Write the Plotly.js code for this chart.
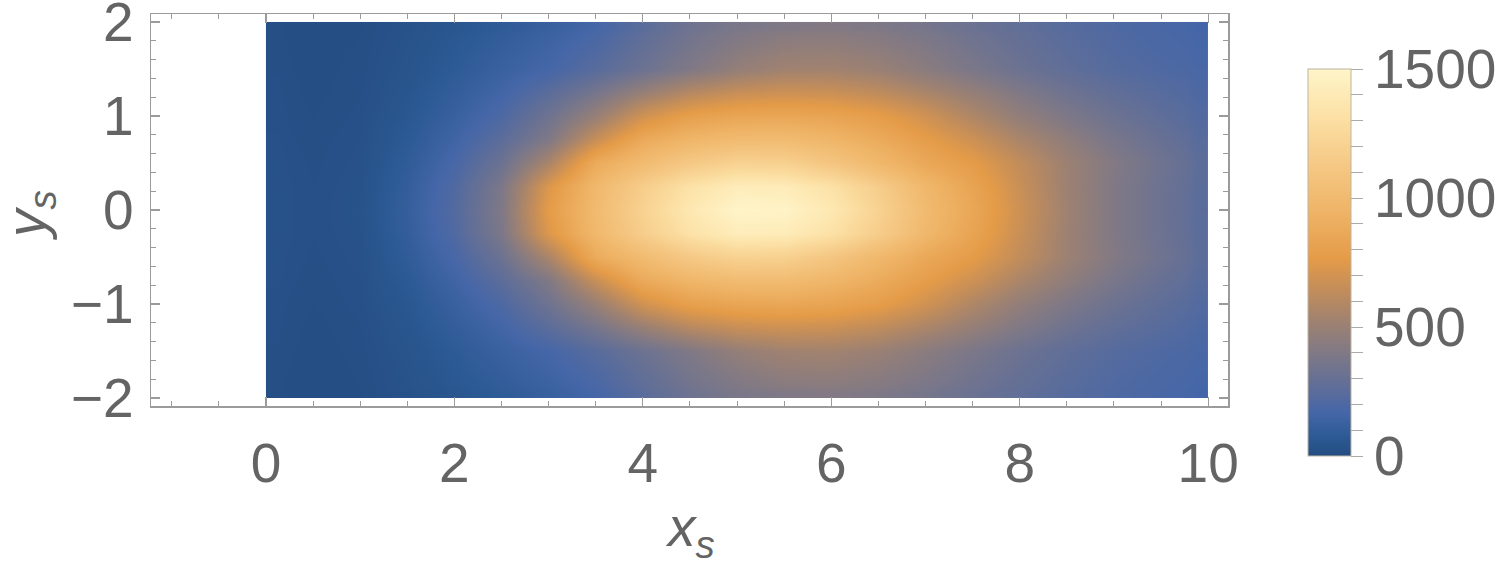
<!DOCTYPE html>
<html>
<head>
<meta charset="utf-8">
<script src="https://cdn.plot.ly/plotly-3.0.1.min.js"></script>
<style>html,body{margin:0;padding:0;background:#fff;}#chart{width:1500px;height:569px;}</style>
</head>
<body>
<div id="chart"></div>
<script>
// x sample positions (x_s) and y sample positions (y_s, upper half; mirrored below)
const xs = [0,0.5,1,1.5,2,2.5,3,3.5,4,4.5,5,5.5,6,6.5,7,7.5,8,8.5,9,9.5,10];
const ysHalf = [0,0.25,0.5,0.75,1,1.25,1.5,1.75,2];

// values, one row per y_s in ysHalf
const row_y000 = [30,20,32,110,220,400,770,1000,1200,1380,1490,1480,1380,1200,1000,850,680,520,400,320,250];
const row_y025 = [30,19,30,104,210,385,735,980,1165,1325,1420,1410,1320,1160,975,830,665,512,400,320,252];
const row_y050 = [28,17,27,90,182,320,560,880,1010,1130,1200,1190,1100,980,860,770,640,510,410,330,260];
const row_y075 = [25,15,24,74,150,255,400,660,870,960,1010,1010,960,880,780,680,560,460,370,300,240];
const row_y100 = [22,13,21,60,122,200,330,490,690,800,840,850,830,780,690,575,470,390,320,265,220];
const row_y125 = [20,11,18,50,100,160,250,360,490,600,660,680,670,630,560,480,400,330,275,235,200];
const row_y150 = [18,10,16,40,80,125,170,240,320,400,480,525,530,500,440,380,320,270,230,205,185];
const row_y175 = [16,9,14,35,67,105,145,200,280,360,420,460,465,440,400,345,295,250,215,192,174];
const row_y200 = [14,8,13,30,55,85,120,170,250,330,380,400,410,395,360,315,275,235,205,183,165];

const cbTickVals = [0,100,200,300,400,500,600,700,800,900,1000,1100,1200,1300,1400,1500];
const cbLabelVals = [0,500,1000,1500];
const yTickVals = [-2,-1,0,1,2];
const xTickVals = [0,2,4,6,8,10];

// build full grid (y from -2 to 2)
const halfRows = [row_y000,row_y025,row_y050,row_y075,row_y100,row_y125,row_y150,row_y175,row_y200];
const ys = [];
const z = [];
for (let i = ysHalf.length - 1; i >= 1; i--) { ys.push(-ysHalf[i]); z.push(halfRows[i]); }
for (let i = 0; i < ysHalf.length; i++) { ys.push(ysHalf[i]); z.push(halfRows[i]); }

function edgesOf(c) {
  const e = [c[0]];
  for (let i = 1; i < c.length; i++) e.push((c[i-1] + c[i]) / 2);
  e.push(c[c.length-1]);
  return e;
}

const colorscale = [
  [0.00, 'rgb(36,76,130)'],
  [0.05, 'rgb(44,90,148)'],
  [0.11, 'rgb(68,102,168)'],
  [0.18, 'rgb(96,110,152)'],
  [0.26, 'rgb(125,120,135)'],
  [0.35, 'rgb(160,130,112)'],
  [0.43, 'rgb(195,141,90)'],
  [0.51, 'rgb(228,155,72)'],
  [0.62, 'rgb(238,178,100)'],
  [0.75, 'rgb(245,200,132)'],
  [0.88, 'rgb(252,225,166)'],
  [1.00, 'rgb(255,245,202)']
];

const font = {family: 'Liberation Sans, Arial, sans-serif', size: 55, color: 'rgb(100,100,100)'};
const frameColor = 'rgb(155,155,155)';

const trace = {
  type: 'heatmap',
  x: edgesOf(xs),
  y: edgesOf(ys),
  z: z,
  zmin: 0, zmax: 1500,
  zsmooth: 'best',
  colorscale: colorscale,
  hoverinfo: 'skip',
  colorbar: {
    thicknessmode: 'pixels', thickness: 43,
    lenmode: 'pixels', len: 387,
    x: 1.0743, xanchor: 'left', xpad: 0,
    y: 0.366, yanchor: 'middle', ypad: 0,
    outlinewidth: 1, outlinecolor: 'rgb(190,180,160)',
    tickmode: 'array',
    tickvals: cbTickVals,
    ticktext: cbTickVals.map(v => cbLabelVals.includes(v) ? String(v) : ' '),
    ticks: 'outside', ticklen: 12, tickwidth: 1, tickcolor: 'rgb(170,170,170)',
    ticklabeloverflow: 'allow',
    tickfont: font
  }
};

const layout = {
  width: 1500, height: 569,
  margin: {l: 151, r: 272, t: 14, b: 163, autoexpand: false},
  paper_bgcolor: '#fff', plot_bgcolor: '#fff',
  font: font,
  xaxis: {
    range: [-1.22, 10.21],
    tickmode: 'array', tickvals: xTickVals,
    ticks: 'inside', ticklen: 9, tickwidth: 1.2, tickcolor: frameColor,
    minor: {dtick: 0.5, tick0: 0, ticks: 'inside', ticklen: 5, tickwidth: 1, tickcolor: frameColor},
    showline: true, linecolor: frameColor, linewidth: 1.5, mirror: 'allticks',
    showgrid: false, zeroline: false,
    tickfont: font,
    ticklabelstandoff: 8,
    ticklabeloverflow: 'allow'
  },
  yaxis: {
    range: [-2.085, 2.085],
    tickmode: 'array', tickvals: yTickVals,
    ticks: 'inside', ticklen: 9, tickwidth: 1.2, tickcolor: frameColor,
    minor: {dtick: 0.2, tick0: 0, ticks: 'inside', ticklen: 5, tickwidth: 1, tickcolor: frameColor},
    showline: true, linecolor: frameColor, linewidth: 1.5, mirror: 'allticks',
    showgrid: false, zeroline: false,
    tickfont: font,
    ticklabelstandoff: 5,
    ticklabeloverflow: 'allow'
  },
  annotations: [
    {text: '<i>x<sub>s</sub></i>', xref: 'paper', yref: 'paper', x: 0.5, y: -0.318,
     xanchor: 'center', yanchor: 'middle', showarrow: false, font: font},
    {text: '<i>y<sub>s</sub></i>', xref: 'paper', yref: 'paper', x: -0.1124, y: 0.487,
     xanchor: 'center', yanchor: 'middle', textangle: -90, showarrow: false, font: font}
  ]
};

Plotly.newPlot('chart', [trace], layout, {displayModeBar: false, staticPlot: true});
</script>
</body>
</html>
